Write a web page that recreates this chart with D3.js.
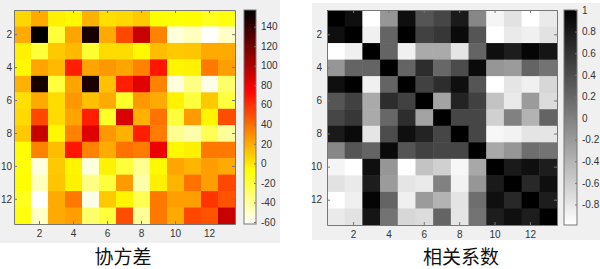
<!DOCTYPE html>
<html><head><meta charset="utf-8">
<script src="https://cdn.jsdelivr.net/npm/d3@7"></script>
<style>body{margin:0;background:#fff;} svg{display:block;}</style>
</head><body>
<svg id="c" width="600" height="269"></svg>
<script>
const indices = [1,2,3,4,5,6,7,8,9,10,11,12,13];
const axisTicks = [2,4,6,8,10,12];
const covTicks = [140,120,100,80,60,40,20,0,-20,-40,-60];
const corrTicks = [1,0.8,0.6,0.4,0.2,0,-0.2,-0.4,-0.6,-0.8];
const covRange = [-62,157];
const corrRange = [-0.99,1];
const titles = ["协方差","相关系数"];

const covRows = [
 [6,20,-3,-5,18,3,5,10,-7,-8,-7,-14,-10],
 [20,157,-20,22,150,20,52,93,33,-55,-48,-62,-50],
 [-3,-20,10,15,-18,4,4,-5,14,10,11,20,20],
 [-5,22,15,65,22,26,22,33,68,-4,-3,36,24],
 [18,150,-20,22,148,13,65,85,33,-55,-36,-57,-30],
 [3,20,4,26,13,20,-16,26,20,-3,-20,10,-20],
 [5,52,4,22,65,-16,87,18,38,-20,25,-4,50],
 [10,93,-5,33,85,26,18,65,35,-38,-44,-25,-40],
 [-7,33,14,68,33,20,38,35,80,-5,-2,36,36],
 [-8,-55,10,-4,-55,-3,-20,-38,-5,22,17,24,20],
 [-7,-48,11,-3,-36,-20,25,-44,-2,17,38,24,52],
 [-14,-62,20,36,-57,10,-4,-25,36,24,24,58,48],
 [-10,-50,20,24,-30,-20,50,-40,36,20,52,48,93]
];
const corrRows = [
 [1,0.88,-0.99,-0.17,0.88,0.34,0.45,0.80,-0.05,-0.91,-0.76,-0.99,-0.83],
 [0.88,1,-0.87,0.22,1,0.49,0.57,0.92,0.34,-0.99,-0.83,-0.87,-0.76],
 [-0.99,-0.87,1,0.22,-0.87,-0.33,-0.33,-0.79,0.22,0.88,0.77,0.96,0.84],
 [-0.17,0.22,0.22,1,0.22,0.65,0.20,0.41,0.92,-0.17,-0.21,0.22,0.10],
 [0.88,1,-0.87,0.22,1,0.49,0.65,0.88,0.34,-0.99,-0.79,-0.87,-0.68],
 [0.34,0.49,-0.33,0.65,0.49,1,-0.27,0.73,0.49,-0.52,-0.83,-0.21,-0.72],
 [0.45,0.57,-0.33,0.20,0.65,-0.27,1,0.45,0.45,-0.62,-0.01,-0.40,0.22],
 [0.80,0.92,-0.79,0.41,0.88,0.73,0.45,1,0.45,-0.93,-0.89,-0.78,-0.79],
 [-0.05,0.34,0.22,0.92,0.34,0.49,0.45,0.45,1,-0.31,-0.17,0.14,0.10],
 [-0.91,-0.99,0.88,-0.17,-0.99,-0.52,-0.62,-0.93,-0.31,1,0.80,0.88,0.77],
 [-0.76,-0.83,0.77,-0.21,-0.79,-0.83,-0.01,-0.89,-0.17,0.80,1,0.69,0.88],
 [-0.99,-0.87,0.96,0.22,-0.87,-0.21,-0.40,-0.78,0.14,0.88,0.69,1,0.77],
 [-0.83,-0.76,0.84,0.10,-0.68,-0.72,0.22,-0.79,0.10,0.77,0.88,0.77,1]
];

function hot(t){ // MATLAB hot, t in [0,1]
  const r = Math.min(1, t/(3/8));
  const g = Math.max(0, Math.min(1,(t-3/8)/(3/8)));
  const b = Math.max(0, Math.min(1,(t-6/8)/(2/8)));
  return d3.rgb(r*255,g*255,b*255).toString();
}
function gray(t){ const v=t*255; return d3.rgb(v,v,v).toString(); }

const svg = d3.select("#c");
const font = "'Liberation Sans', Arial, sans-serif";

function panel(o){
  svg.append("rect").attr("x",o.bg[0]).attr("y",o.bg[1]).attr("width",o.bg[2]).attr("height",o.bg[3]).attr("fill","#f0f0f0");
  const x = d3.scaleBand().domain(indices).range([o.l,o.r]).paddingInner(0).paddingOuter(0);
  const y = d3.scaleBand().domain(indices).range([o.t,o.b]);
  const color = d3.scaleLinear().domain(o.range).range([1,0]).clamp(true);
  const g = svg.append("g");
  o.data.forEach((row,i)=>{
    g.selectAll(null).data(row).join("rect")
      .attr("x",(d,j)=>x(indices[j])).attr("y",y(indices[i]))
      .attr("width",x.bandwidth()+0.5).attr("height",y.bandwidth()+0.5)
      .attr("fill",d=>o.cmap(color(d)));
  });
  const axc = "#777";
  const styleAxis = sel => {
    sel.select(".domain").attr("stroke",axc);
    sel.selectAll(".tick line").attr("stroke",axc);
    sel.selectAll(".tick text").attr("fill","#333").attr("font-size","10px").attr("font-family",font);
  };
  svg.append("g").attr("transform",`translate(0,${o.b})`)
    .call(d3.axisBottom(x).tickValues(axisTicks).tickSizeInner(-3).tickSizeOuter(0).tickPadding(6)).call(styleAxis);
  svg.append("g").attr("transform",`translate(${o.l},0)`)
    .call(d3.axisLeft(y).tickValues(axisTicks).tickSizeInner(-3).tickSizeOuter(0).tickPadding(o.lpad)).call(styleAxis);
  svg.append("g").attr("transform",`translate(0,${o.t})`)
    .call(d3.axisTop(x).tickValues(axisTicks).tickSizeInner(-3).tickSizeOuter(0).tickFormat("")).call(styleAxis);
  svg.append("g").attr("transform",`translate(${o.r},0)`)
    .call(d3.axisRight(y).tickValues(axisTicks).tickSizeInner(-3).tickSizeOuter(0).tickFormat("")).call(styleAxis);

  // colorbar
  const cy = d3.scaleLinear().domain(o.range).range([o.b,o.t]);
  const gid = "grad"+o.id;
  const grad = svg.append("defs").append("linearGradient").attr("id",gid)
    .attr("x1",0).attr("y1",1).attr("x2",0).attr("y2",0);
  d3.range(0,1.0001,0.02).forEach(s=>{
    grad.append("stop").attr("offset",s).attr("stop-color",o.cmap(1-s));
  });
  svg.append("rect").attr("x",o.cb[0]).attr("y",o.t).attr("width",o.cb[1]-o.cb[0]).attr("height",o.b-o.t)
    .attr("fill",`url(#${gid})`).attr("stroke",axc).attr("stroke-width",1);
  const ca = svg.append("g").attr("transform",`translate(${o.cb[1]},0)`)
    .call(d3.axisRight(cy).tickValues(o.ticks).tickSizeInner(-2).tickSizeOuter(0).tickPadding(5)
      .tickFormat(d=>String(Math.round(d*10)/10)));
  ca.select(".domain").remove();
  ca.selectAll(".tick line").attr("stroke",axc);
  ca.selectAll(".tick text").attr("fill","#333").attr("font-size","10px").attr("font-family",font);

  svg.append("text").attr("x",o.tx).attr("y",264).attr("text-anchor","middle")
    .attr("font-family","'Noto Sans CJK SC', sans-serif").attr("font-size","19px").attr("fill","#111")
    .text(o.title);
}

panel({id:1,bg:[0,0,280,243],l:14,r:235,t:10,b:224,data:covRows,range:covRange,cmap:hot,
  cb:[244,256],ticks:covTicks,title:titles[0],tx:123,lpad:2});
panel({id:2,bg:[312,3,288,237],l:327,r:557,t:10,b:225,data:corrRows,range:corrRange,cmap:gray,
  cb:[564,577],ticks:corrTicks,title:titles[1],tx:461,lpad:5});
</script>
</body></html>
